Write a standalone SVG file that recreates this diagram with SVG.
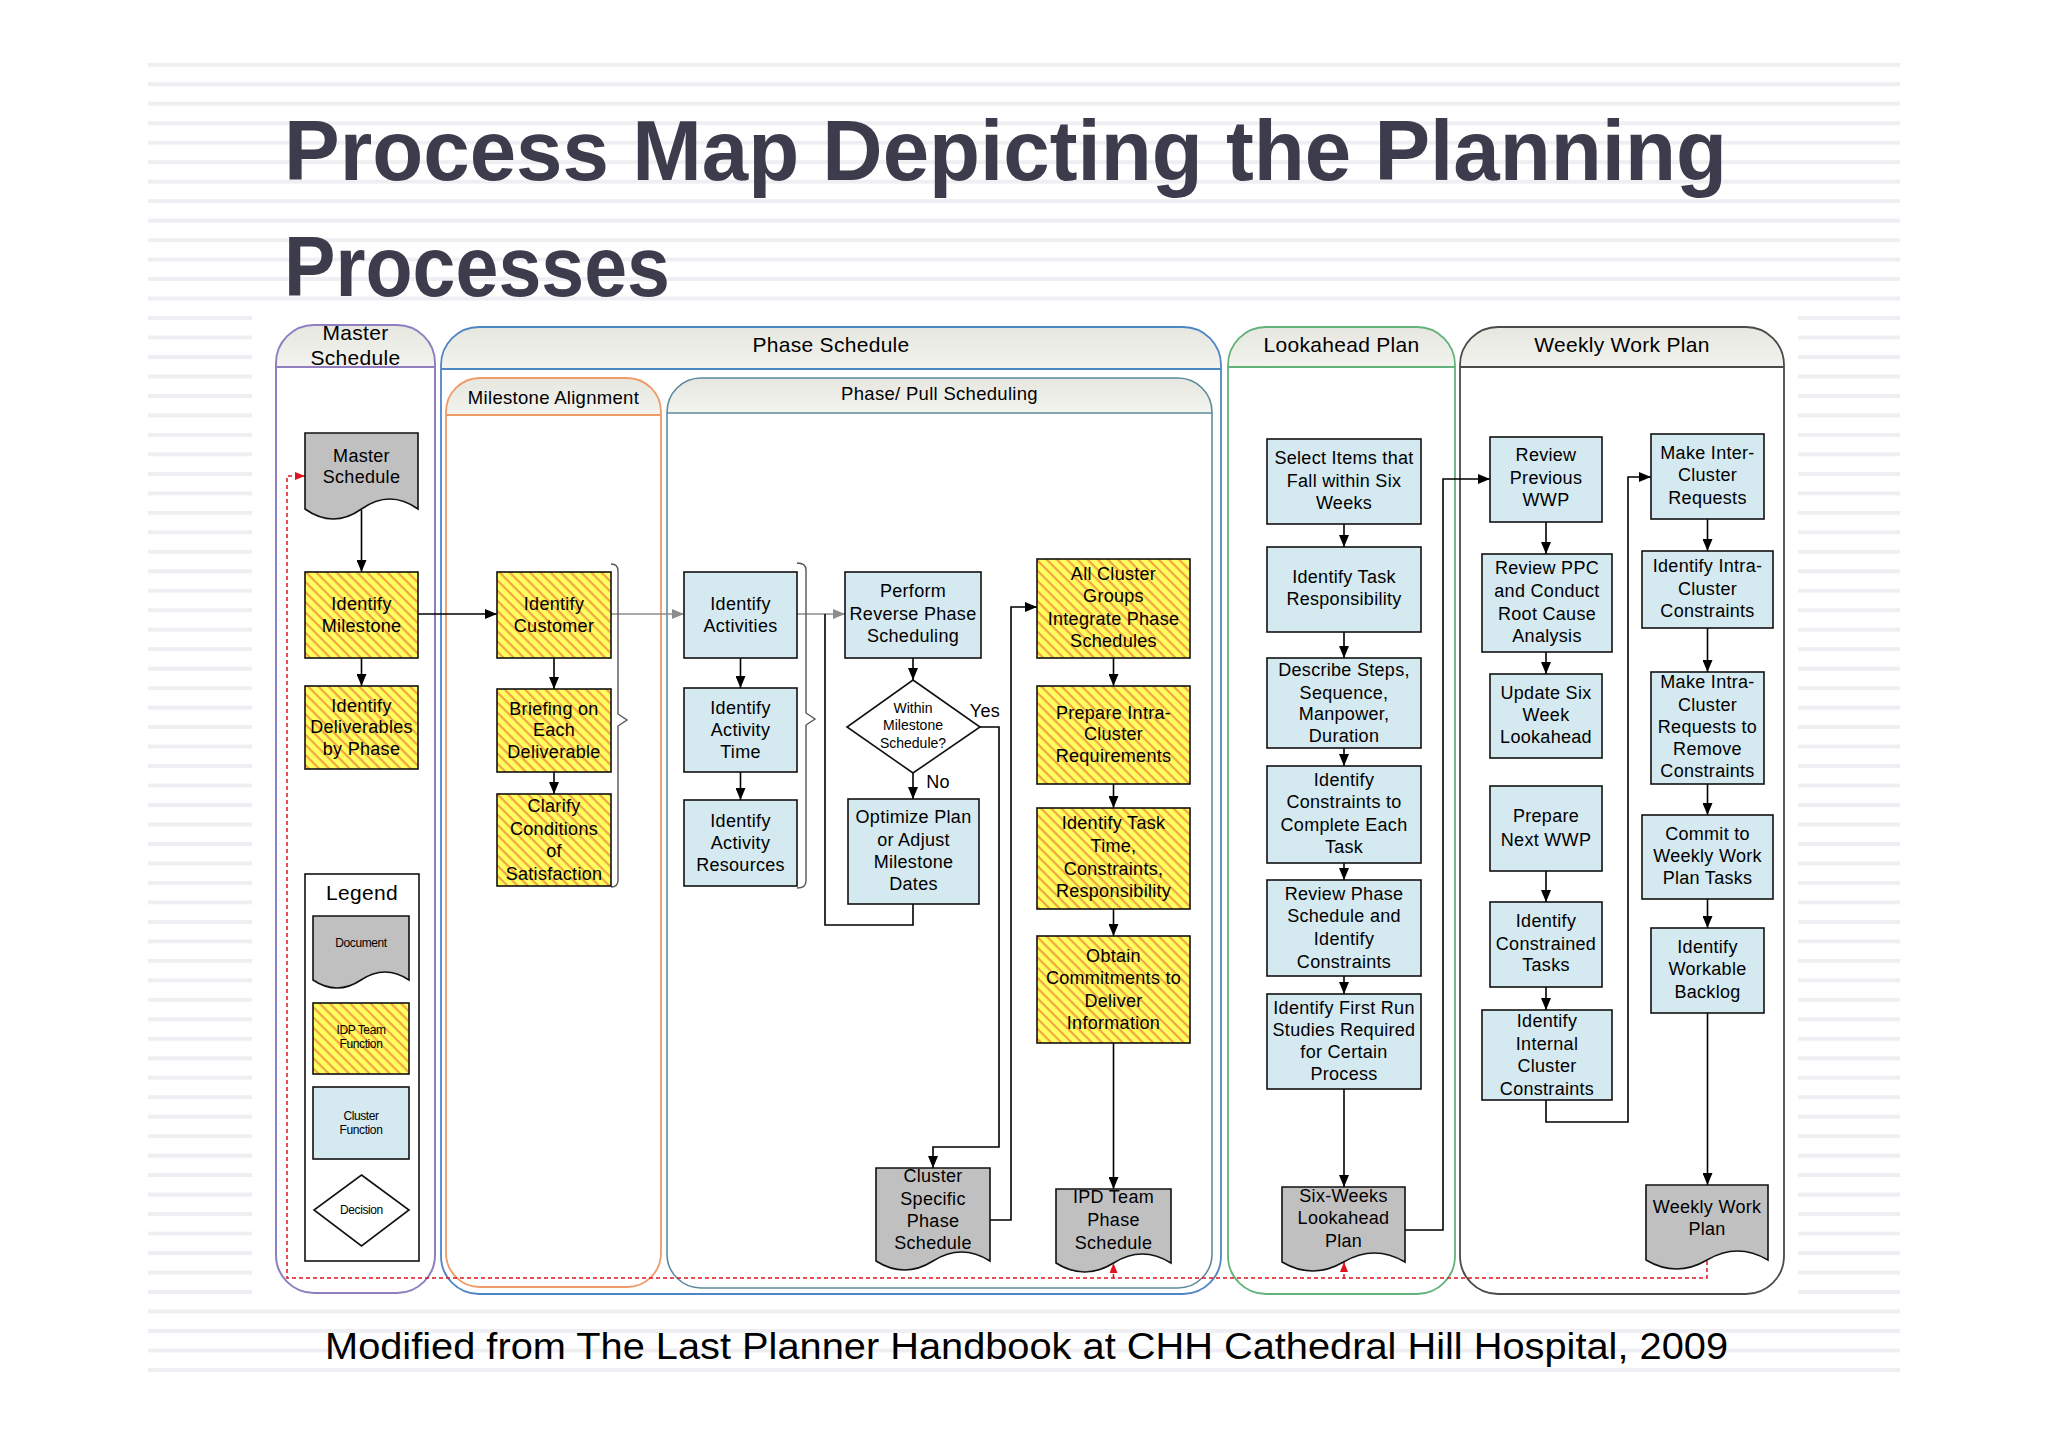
<svg xmlns="http://www.w3.org/2000/svg" width="2048" height="1447" viewBox="0 0 2048 1447">
<defs>
<style>
.t{font-family:"Liberation Sans",Arial,sans-serif;font-size:18px;letter-spacing:0.3px;text-anchor:middle;fill:#000}
.h{font-size:21px}
.sh{font-size:18.5px}
.s{font-size:14px;letter-spacing:0}
.lg{font-size:12px;letter-spacing:-0.4px}
.cb{fill:#d4e9f0;stroke:#111;stroke-width:1.6}
.yb{fill:url(#hatch);stroke:#111;stroke-width:1.6}
.doc{fill:#c0c0c0;stroke:#111;stroke-width:1.6}
.con{fill:none;stroke:#000;stroke-width:1.6}
.gcon{fill:none;stroke:#8c8c8c;stroke-width:1.6}
.brk{fill:none;stroke:#555;stroke-width:1.4}
.red{fill:none;stroke:#e0141e;stroke-width:1.5;stroke-dasharray:4 3}
</style>
<pattern id="stripes" patternUnits="userSpaceOnUse" x="0" y="62.8" width="40" height="19.48">
<rect x="0" y="0" width="40" height="4" fill="#efeff3"/>
</pattern>
<pattern id="hatch" patternUnits="userSpaceOnUse" width="7.2" height="7.2" patternTransform="rotate(45)">
<rect width="7.2" height="7.2" fill="#ffff5e"/>
<rect x="0" y="0" width="7.2" height="2.2" fill="#f3a445"/>
</pattern>
<linearGradient id="hdr" x1="0" y1="0" x2="0" y2="1">
<stop offset="0" stop-color="#e6e7df"/>
<stop offset="1" stop-color="#f3f3ef"/>
</linearGradient>
<marker id="ah" markerWidth="12" markerHeight="10" refX="12" refY="5" orient="auto" markerUnits="userSpaceOnUse"><path d="M0,0 L12,5 L0,10 Z" fill="#000"/></marker>
<marker id="ahg" markerWidth="12" markerHeight="10" refX="12" refY="5" orient="auto" markerUnits="userSpaceOnUse"><path d="M0,0 L12,5 L0,10 Z" fill="#8c8c8c"/></marker>
<marker id="ahr" markerWidth="10" markerHeight="8" refX="10" refY="4" orient="auto" markerUnits="userSpaceOnUse"><path d="M0,0 L10,4 L0,8 Z" fill="#e0141e"/></marker>
</defs>

<rect width="2048" height="1447" fill="#fff"/>
<rect x="148" y="62" width="1752" height="1312" fill="url(#stripes)"/>
<rect x="252" y="305" width="1546" height="995" fill="#fff"/>

<g id="title">
<text x="284" y="180" font-family="'Liberation Sans',Arial,sans-serif" font-size="86" font-weight="bold" fill="#3c3c4c" textLength="1443" lengthAdjust="spacingAndGlyphs">Process Map Depicting the Planning</text>
<text x="284" y="296" font-family="'Liberation Sans',Arial,sans-serif" font-size="86" font-weight="bold" fill="#3c3c4c" textLength="386" lengthAdjust="spacingAndGlyphs">Processes</text>
</g>
<g id="footer">
<text x="325" y="1359" font-family="'Liberation Sans',Arial,sans-serif" font-size="36" fill="#000" textLength="1403" lengthAdjust="spacingAndGlyphs">Modified from The Last Planner Handbook at CHH Cathedral Hill Hospital, 2009</text>
</g>

<!-- Lanes -->
<g id="lane-master">
<rect x="276" y="325" width="159" height="968" rx="38" fill="#fff"/>
<path d="M276,367 V363 A38,38 0 0 1 314,325 H397 A38,38 0 0 1 435,363 V367 Z" fill="url(#hdr)"/>
<rect x="276" y="325" width="159" height="968" rx="38" fill="none" stroke="#8f7fc0" stroke-width="2"/>
<line x1="276" y1="367" x2="435" y2="367" stroke="#8f7fc0" stroke-width="2"/>
<text class="t h"><tspan x="355.5" y="340">Master</tspan><tspan x="355.5" y="365">Schedule</tspan></text>
</g>
<g id="lane-phase">
<rect x="441" y="327" width="780" height="967" rx="38" fill="#fff"/>
<path d="M441,369 V365 A38,38 0 0 1 479,327 H1183 A38,38 0 0 1 1221,365 V369 Z" fill="url(#hdr)"/>
<rect x="441" y="327" width="780" height="967" rx="38" fill="none" stroke="#4e86c4" stroke-width="1.8"/>
<line x1="441" y1="369" x2="1221" y2="369" stroke="#4e86c4" stroke-width="1.8"/>
<text class="t h" x="831" y="352">Phase Schedule</text>
</g>
<g id="lane-milestone">
<rect x="446" y="378" width="215" height="909" rx="34" fill="#fff"/>
<path d="M446,415 V412 A34,34 0 0 1 480,378 H627 A34,34 0 0 1 661,412 V415 Z" fill="url(#hdr)"/>
<rect x="446" y="378" width="215" height="909" rx="34" fill="none" stroke="#f09a66" stroke-width="1.8"/>
<line x1="446" y1="415" x2="661" y2="415" stroke="#f09a66" stroke-width="1.8"/>
<text class="t sh" x="553.5" y="404">Milestone Alignment</text>
</g>
<g id="lane-pull">
<rect x="667" y="378" width="545" height="910" rx="34" fill="#fff"/>
<path d="M667,413 V412 A34,34 0 0 1 701,378 H1178 A34,34 0 0 1 1212,412 V413 Z" fill="url(#hdr)"/>
<rect x="667" y="378" width="545" height="910" rx="34" fill="none" stroke="#5e8a9c" stroke-width="1.6"/>
<line x1="667" y1="413" x2="1212" y2="413" stroke="#5e8a9c" stroke-width="1.6"/>
<text class="t sh" x="939.5" y="400">Phase/ Pull Scheduling</text>
</g>
<g id="lane-lookahead">
<rect x="1228" y="327" width="227" height="967" rx="38" fill="#fff"/>
<path d="M1228,367 V365 A38,38 0 0 1 1266,327 H1417 A38,38 0 0 1 1455,365 V367 Z" fill="url(#hdr)"/>
<rect x="1228" y="327" width="227" height="967" rx="38" fill="none" stroke="#62b27a" stroke-width="1.8"/>
<line x1="1228" y1="367" x2="1455" y2="367" stroke="#62b27a" stroke-width="1.8"/>
<text class="t h" x="1341.5" y="352">Lookahead Plan</text>
</g>
<g id="lane-weekly">
<rect x="1460" y="327" width="324" height="967" rx="38" fill="#fff"/>
<path d="M1460,367 V365 A38,38 0 0 1 1498,327 H1746 A38,38 0 0 1 1784,365 V367 Z" fill="url(#hdr)"/>
<rect x="1460" y="327" width="324" height="967" rx="38" fill="none" stroke="#4a4a4a" stroke-width="1.8"/>
<line x1="1460" y1="367" x2="1784" y2="367" stroke="#4a4a4a" stroke-width="1.8"/>
<text class="t h" x="1622" y="352">Weekly Work Plan</text>
</g>

<!-- Connectors -->
<g id="connectors">
<path class="red" d="M1707,1261 V1278 H287 V476 H305" marker-end="url(#ahr)"/>
<path class="red" d="M1344,1278 V1262" marker-end="url(#ahr)" stroke-dasharray="none"/>
<path class="red" d="M1113.5,1278 V1263" marker-end="url(#ahr)" stroke-dasharray="none"/>
<path class="con" d="M361.5,510 V572" marker-end="url(#ah)"/>
<path class="con" d="M361.5,658 V686" marker-end="url(#ah)"/>
<path class="con" d="M418,614 H497" marker-end="url(#ah)"/>
<path class="con" d="M554,658 V689" marker-end="url(#ah)"/>
<path class="con" d="M554,772 V794" marker-end="url(#ah)"/>
<path class="gcon" d="M611,614 H684" marker-end="url(#ahg)"/>
<path class="gcon" d="M797,614 H845" marker-end="url(#ahg)"/>
<path class="con" d="M740.5,658 V688" marker-end="url(#ah)"/>
<path class="con" d="M740.5,772 V800" marker-end="url(#ah)"/>
<path class="con" d="M913,658 V680" marker-end="url(#ah)"/>
<path class="con" d="M913,773 V799" marker-end="url(#ah)"/>
<path class="con" d="M913,904 V925 H825 V614"/>
<path class="con" d="M980,727 H999 V1147 H933 V1168" marker-end="url(#ah)"/>
<path class="con" d="M990,1220 H1011 V607 H1037" marker-end="url(#ah)"/>
<path class="con" d="M1113.5,658 V686" marker-end="url(#ah)"/>
<path class="con" d="M1113.5,784 V808" marker-end="url(#ah)"/>
<path class="con" d="M1113.5,909 V936" marker-end="url(#ah)"/>
<path class="con" d="M1113.5,1043 V1189" marker-end="url(#ah)"/>
<path class="con" d="M1344,524 V547" marker-end="url(#ah)"/>
<path class="con" d="M1344,632 V658" marker-end="url(#ah)"/>
<path class="con" d="M1344,748 V766" marker-end="url(#ah)"/>
<path class="con" d="M1344,863 V880" marker-end="url(#ah)"/>
<path class="con" d="M1344,976 V994" marker-end="url(#ah)"/>
<path class="con" d="M1344,1089 V1187" marker-end="url(#ah)"/>
<path class="con" d="M1405,1230 H1443 V479 H1490" marker-end="url(#ah)"/>
<path class="con" d="M1546,522 V554" marker-end="url(#ah)"/>
<path class="con" d="M1546,652 V674" marker-end="url(#ah)"/>
<path class="con" d="M1546,871 V902" marker-end="url(#ah)"/>
<path class="con" d="M1546,987 V1010" marker-end="url(#ah)"/>
<path class="con" d="M1546,1100 V1122 H1628 V477 H1651" marker-end="url(#ah)"/>
<path class="con" d="M1707.5,519 V551" marker-end="url(#ah)"/>
<path class="con" d="M1707.5,628 V672" marker-end="url(#ah)"/>
<path class="con" d="M1707.5,784 V815" marker-end="url(#ah)"/>
<path class="con" d="M1707.5,899 V928" marker-end="url(#ah)"/>
<path class="con" d="M1707.5,1013 V1185" stroke="#666" marker-end="url(#ah)"/>
<path class="brk" d="M611,564 Q618,564 618,571 V714 L627,720 L618,726 V880 Q618,887 611,887"/>
<path class="brk" d="M797,563 Q806,563 806,570 V713 L815,719 L806,725 V881 Q806,888 797,888"/>
<text class="t" x="985" y="717">Yes</text>
<text class="t" x="938" y="788">No</text>
</g>

<!-- Master Schedule lane nodes -->
<g id="n-master-doc">
<path class="doc" d="M305,433 H418 V509 Q389.75,489 361.5,509 T305,509 Z"/>
<text class="t"><tspan x="361.5" y="462">Master</tspan><tspan x="361.5" y="483">Schedule</tspan></text>
</g>
<g id="n-identify-milestone">
<rect class="yb" x="305" y="572" width="113" height="86"/>
<text class="t"><tspan x="361.5" y="610">Identify</tspan><tspan x="361.5" y="632">Milestone</tspan></text>
</g>
<g id="n-identify-deliverables">
<rect class="yb" x="305" y="686" width="113" height="83"/>
<text class="t"><tspan x="361.5" y="712">Identify</tspan><tspan x="361.5" y="733">Deliverables</tspan><tspan x="361.5" y="755">by Phase</tspan></text>
</g>
<g id="legend">
<rect x="305" y="874" width="114" height="387" fill="#fff" stroke="#111" stroke-width="1.6"/>
<text class="t h" x="362" y="900">Legend</text>
<path class="doc" d="M313,916 H409 V980 Q385,964 361,980 T313,980 Z"/>
<text class="t lg" x="361" y="947">Document</text>
<rect class="yb" x="313" y="1003" width="96" height="71"/>
<text class="t lg"><tspan x="361" y="1034">IDP Team</tspan><tspan x="361" y="1048">Function</tspan></text>
<rect class="cb" x="313" y="1087" width="96" height="72"/>
<text class="t lg"><tspan x="361" y="1120">Cluster</tspan><tspan x="361" y="1134">Function</tspan></text>
<path d="M361.5,1175 L409,1210 L361.5,1246 L314,1210 Z" fill="#fff" stroke="#111" stroke-width="1.6"/>
<text class="t lg" x="361.5" y="1214">Decision</text>
</g>

<!-- Milestone Alignment nodes -->
<g id="n-identify-customer">
<rect class="yb" x="497" y="572" width="114" height="86"/>
<text class="t"><tspan x="554" y="610">Identify</tspan><tspan x="554" y="632">Customer</tspan></text>
</g>
<g id="n-briefing">
<rect class="yb" x="497" y="689" width="114" height="83"/>
<text class="t"><tspan x="554" y="715">Briefing on</tspan><tspan x="554" y="736">Each</tspan><tspan x="554" y="758">Deliverable</tspan></text>
</g>
<g id="n-clarify">
<rect class="yb" x="497" y="794" width="114" height="92"/>
<text class="t"><tspan x="554" y="812">Clarify</tspan><tspan x="554" y="834.5">Conditions</tspan><tspan x="554" y="857">of</tspan><tspan x="554" y="879.5">Satisfaction</tspan></text>
</g>

<!-- Phase/Pull nodes -->
<g id="n-identify-activities">
<rect class="cb" x="684" y="572" width="113" height="86"/>
<text class="t"><tspan x="740.5" y="610">Identify</tspan><tspan x="740.5" y="632">Activities</tspan></text>
</g>
<g id="n-activity-time">
<rect class="cb" x="684" y="688" width="113" height="84"/>
<text class="t"><tspan x="740.5" y="714">Identify</tspan><tspan x="740.5" y="736">Activity</tspan><tspan x="740.5" y="758">Time</tspan></text>
</g>
<g id="n-activity-resources">
<rect class="cb" x="684" y="800" width="113" height="86"/>
<text class="t"><tspan x="740.5" y="827">Identify</tspan><tspan x="740.5" y="849">Activity</tspan><tspan x="740.5" y="871">Resources</tspan></text>
</g>
<g id="n-perform">
<rect class="cb" x="845" y="572" width="136" height="86"/>
<text class="t"><tspan x="913" y="597">Perform</tspan><tspan x="913" y="620">Reverse Phase</tspan><tspan x="913" y="642">Scheduling</tspan></text>
</g>
<g id="n-decision">
<path d="M913,680 L980,727 L913,773 L847,727 Z" fill="#fff" stroke="#111" stroke-width="1.6"/>
<text class="t s"><tspan x="913" y="713">Within</tspan><tspan x="913" y="730">Milestone</tspan><tspan x="913" y="748">Schedule?</tspan></text>
</g>
<g id="n-optimize">
<rect class="cb" x="848" y="799" width="131" height="105"/>
<text class="t"><tspan x="913.5" y="823">Optimize Plan</tspan><tspan x="913.5" y="846">or Adjust</tspan><tspan x="913.5" y="868">Milestone</tspan><tspan x="913.5" y="890">Dates</tspan></text>
</g>
<g id="n-cluster-doc">
<path class="doc" d="M876,1168 H990 V1261 Q961.5,1243 933,1261 T876,1261 Z"/>
<text class="t"><tspan x="933" y="1182">Cluster</tspan><tspan x="933" y="1205">Specific</tspan><tspan x="933" y="1227">Phase</tspan><tspan x="933" y="1249">Schedule</tspan></text>
</g>
<g id="n-all-cluster">
<rect class="yb" x="1037" y="559" width="153" height="99"/>
<text class="t"><tspan x="1113.5" y="580">All Cluster</tspan><tspan x="1113.5" y="602">Groups</tspan><tspan x="1113.5" y="624.5">Integrate Phase</tspan><tspan x="1113.5" y="646.5">Schedules</tspan></text>
</g>
<g id="n-prepare-intra">
<rect class="yb" x="1037" y="686" width="153" height="98"/>
<text class="t"><tspan x="1113.5" y="719">Prepare Intra-</tspan><tspan x="1113.5" y="740">Cluster</tspan><tspan x="1113.5" y="762">Requirements</tspan></text>
</g>
<g id="n-task-time">
<rect class="yb" x="1037" y="808" width="153" height="101"/>
<text class="t"><tspan x="1113.5" y="829">Identify Task</tspan><tspan x="1113.5" y="852">Time,</tspan><tspan x="1113.5" y="875">Constraints,</tspan><tspan x="1113.5" y="897">Responsibility</tspan></text>
</g>
<g id="n-obtain">
<rect class="yb" x="1037" y="936" width="153" height="107"/>
<text class="t"><tspan x="1113.5" y="962">Obtain</tspan><tspan x="1113.5" y="984">Commitments to</tspan><tspan x="1113.5" y="1007">Deliver</tspan><tspan x="1113.5" y="1029">Information</tspan></text>
</g>
<g id="n-ipd-doc">
<path class="doc" d="M1056,1189 H1171 V1263 Q1142.25,1245 1113.5,1263 T1056,1263 Z"/>
<text class="t"><tspan x="1113.5" y="1203">IPD Team</tspan><tspan x="1113.5" y="1226">Phase</tspan><tspan x="1113.5" y="1249">Schedule</tspan></text>
</g>

<!-- Lookahead nodes -->
<g id="n-select-items">
<rect class="cb" x="1267" y="439" width="154" height="85"/>
<text class="t"><tspan x="1344" y="464">Select Items that</tspan><tspan x="1344" y="487">Fall within Six</tspan><tspan x="1344" y="509">Weeks</tspan></text>
</g>
<g id="n-task-resp">
<rect class="cb" x="1267" y="547" width="154" height="85"/>
<text class="t"><tspan x="1344" y="583">Identify Task</tspan><tspan x="1344" y="605">Responsibility</tspan></text>
</g>
<g id="n-describe">
<rect class="cb" x="1267" y="658" width="154" height="90"/>
<text class="t"><tspan x="1344" y="676">Describe Steps,</tspan><tspan x="1344" y="699">Sequence,</tspan><tspan x="1344" y="720">Manpower,</tspan><tspan x="1344" y="742">Duration</tspan></text>
</g>
<g id="n-constraints-task">
<rect class="cb" x="1267" y="766" width="154" height="97"/>
<text class="t"><tspan x="1344" y="786">Identify</tspan><tspan x="1344" y="808">Constraints to</tspan><tspan x="1344" y="831">Complete Each</tspan><tspan x="1344" y="853">Task</tspan></text>
</g>
<g id="n-review-phase">
<rect class="cb" x="1267" y="880" width="154" height="96"/>
<text class="t"><tspan x="1344" y="899.5">Review Phase</tspan><tspan x="1344" y="922">Schedule and</tspan><tspan x="1344" y="945">Identify</tspan><tspan x="1344" y="968">Constraints</tspan></text>
</g>
<g id="n-first-run">
<rect class="cb" x="1267" y="994" width="154" height="95"/>
<text class="t"><tspan x="1344" y="1013.5">Identify First Run</tspan><tspan x="1344" y="1035.5">Studies Required</tspan><tspan x="1344" y="1057.5">for Certain</tspan><tspan x="1344" y="1080">Process</tspan></text>
</g>
<g id="n-six-weeks-doc">
<path class="doc" d="M1282,1187 H1405 V1262 Q1374.25,1244 1343.5,1262 T1282,1262 Z"/>
<text class="t"><tspan x="1343.5" y="1202">Six-Weeks</tspan><tspan x="1343.5" y="1224">Lookahead</tspan><tspan x="1343.5" y="1247">Plan</tspan></text>
</g>

<!-- Weekly Work Plan nodes -->
<g id="n-review-prev">
<rect class="cb" x="1490" y="437" width="112" height="85"/>
<text class="t"><tspan x="1546" y="461">Review</tspan><tspan x="1546" y="484">Previous</tspan><tspan x="1546" y="506">WWP</tspan></text>
</g>
<g id="n-review-ppc">
<rect class="cb" x="1482" y="554" width="130" height="98"/>
<text class="t"><tspan x="1547" y="574">Review PPC</tspan><tspan x="1547" y="597">and Conduct</tspan><tspan x="1547" y="620">Root Cause</tspan><tspan x="1547" y="642">Analysis</tspan></text>
</g>
<g id="n-update-six">
<rect class="cb" x="1490" y="674" width="112" height="84"/>
<text class="t"><tspan x="1546" y="699">Update Six</tspan><tspan x="1546" y="721">Week</tspan><tspan x="1546" y="743">Lookahead</tspan></text>
</g>
<g id="n-prepare-next">
<rect class="cb" x="1490" y="786" width="112" height="85"/>
<text class="t"><tspan x="1546" y="822">Prepare</tspan><tspan x="1546" y="846">Next WWP</tspan></text>
</g>
<g id="n-constrained">
<rect class="cb" x="1490" y="902" width="112" height="85"/>
<text class="t"><tspan x="1546" y="927">Identify</tspan><tspan x="1546" y="950">Constrained</tspan><tspan x="1546" y="971">Tasks</tspan></text>
</g>
<g id="n-internal">
<rect class="cb" x="1482" y="1010" width="130" height="90"/>
<text class="t"><tspan x="1547" y="1027">Identify</tspan><tspan x="1547" y="1050">Internal</tspan><tspan x="1547" y="1072">Cluster</tspan><tspan x="1547" y="1095">Constraints</tspan></text>
</g>
<g id="n-make-inter">
<rect class="cb" x="1651" y="434" width="113" height="85"/>
<text class="t"><tspan x="1707.5" y="459">Make Inter-</tspan><tspan x="1707.5" y="481">Cluster</tspan><tspan x="1707.5" y="504">Requests</tspan></text>
</g>
<g id="n-intra-constraints">
<rect class="cb" x="1642" y="551" width="131" height="77"/>
<text class="t"><tspan x="1707.5" y="572">Identify Intra-</tspan><tspan x="1707.5" y="595">Cluster</tspan><tspan x="1707.5" y="617">Constraints</tspan></text>
</g>
<g id="n-make-intra">
<rect class="cb" x="1651" y="672" width="113" height="112"/>
<text class="t"><tspan x="1707.5" y="688">Make Intra-</tspan><tspan x="1707.5" y="711">Cluster</tspan><tspan x="1707.5" y="733">Requests to</tspan><tspan x="1707.5" y="755">Remove</tspan><tspan x="1707.5" y="777">Constraints</tspan></text>
</g>
<g id="n-commit">
<rect class="cb" x="1642" y="815" width="131" height="84"/>
<text class="t"><tspan x="1707.5" y="840">Commit to</tspan><tspan x="1707.5" y="862">Weekly Work</tspan><tspan x="1707.5" y="884">Plan Tasks</tspan></text>
</g>
<g id="n-backlog">
<rect class="cb" x="1651" y="928" width="113" height="85"/>
<text class="t"><tspan x="1707.5" y="953">Identify</tspan><tspan x="1707.5" y="975">Workable</tspan><tspan x="1707.5" y="998">Backlog</tspan></text>
</g>
<g id="n-wwp-doc">
<path class="doc" d="M1646,1185 H1768 V1260 Q1737.5,1242 1707,1260 T1646,1260 Z"/>
<text class="t"><tspan x="1707" y="1213">Weekly Work</tspan><tspan x="1707" y="1235">Plan</tspan></text>
</g>
</svg>
